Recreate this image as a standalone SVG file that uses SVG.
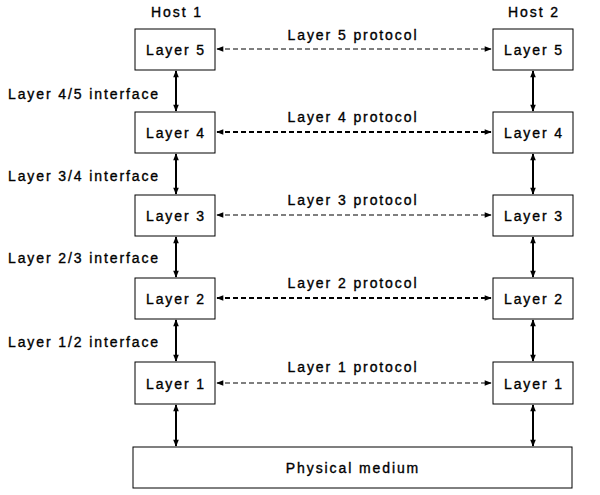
<svg xmlns="http://www.w3.org/2000/svg" width="600" height="495" viewBox="0 0 600 495">
<style>
text{font-family:"Liberation Sans",Arial,sans-serif;font-size:14px;fill:#000;stroke:#000;stroke-width:0.35;letter-spacing:1.9px}
.b{fill:#fff;stroke:#000;stroke-width:1}
.v{stroke:#000;stroke-width:2;marker-start:url(#a);marker-end:url(#a)}
.d{stroke:#000;stroke-width:1.2;stroke-dasharray:5,3;marker-start:url(#a);marker-end:url(#a)}
.t{stroke-width:2}
.c{text-anchor:middle}
</style>
<defs><marker id="a" viewBox="0 0 10 10" refX="9" refY="5" markerWidth="9" markerHeight="7" markerUnits="userSpaceOnUse" orient="auto-start-reverse"><path d="M0,1 L10,5 L0,9 Z" fill="#000"/></marker></defs>
<rect width="600" height="495" fill="#fff"/>
<text x="177" y="17" class="c">Host 1</text>
<text x="534" y="17" class="c">Host 2</text>
<g id="h1l5"><rect class="b" x="135" y="29" width="80" height="41"/><text x="176" y="55" class="c">Layer 5</text></g>
<g id="h1l4"><rect class="b" x="135" y="112" width="80" height="41"/><text x="176" y="138" class="c">Layer 4</text></g>
<g id="h1l3"><rect class="b" x="135" y="195" width="80" height="41"/><text x="176" y="221" class="c">Layer 3</text></g>
<g id="h1l2"><rect class="b" x="135" y="278" width="80" height="41"/><text x="176" y="304" class="c">Layer 2</text></g>
<g id="h1l1"><rect class="b" x="135" y="362" width="80" height="42"/><text x="176" y="389" class="c">Layer 1</text></g>
<g id="h2l5"><rect class="b" x="493" y="29" width="80" height="41"/><text x="534" y="55" class="c">Layer 5</text></g>
<g id="h2l4"><rect class="b" x="493" y="112" width="80" height="41"/><text x="534" y="138" class="c">Layer 4</text></g>
<g id="h2l3"><rect class="b" x="493" y="195" width="80" height="41"/><text x="534" y="221" class="c">Layer 3</text></g>
<g id="h2l2"><rect class="b" x="493" y="278" width="80" height="41"/><text x="534" y="304" class="c">Layer 2</text></g>
<g id="h2l1"><rect class="b" x="493" y="362" width="80" height="42"/><text x="534" y="389" class="c">Layer 1</text></g>
<g id="phys"><rect class="b" x="133" y="447" width="439" height="41"/><text x="353" y="473" class="c">Physical medium</text></g>
<g id="labels">
<text x="353" y="40" class="c">Layer 5 protocol</text>
<text x="353" y="122" class="c">Layer 4 protocol</text>
<text x="353" y="205" class="c">Layer 3 protocol</text>
<text x="353" y="288" class="c">Layer 2 protocol</text>
<text x="353" y="372" class="c">Layer 1 protocol</text>
<text x="8" y="99">Layer 4/5 interface</text>
<text x="8" y="181">Layer 3/4 interface</text>
<text x="8" y="263">Layer 2/3 interface</text>
<text x="8" y="347">Layer 1/2 interface</text>
</g>
<g id="connectors">
<line class="v" x1="176" y1="71" x2="176" y2="111"/>
<line class="v" x1="176" y1="154" x2="176" y2="194"/>
<line class="v" x1="176" y1="237" x2="176" y2="277"/>
<line class="v" x1="176" y1="320" x2="176" y2="361"/>
<line class="v" x1="176" y1="405" x2="176" y2="446"/>
<line class="v" x1="533" y1="71" x2="533" y2="111"/>
<line class="v" x1="533" y1="154" x2="533" y2="194"/>
<line class="v" x1="533" y1="237" x2="533" y2="277"/>
<line class="v" x1="533" y1="320" x2="533" y2="361"/>
<line class="v" x1="533" y1="405" x2="533" y2="446"/>
<line class="d" x1="217" y1="49" x2="491" y2="49"/>
<line class="d t" x1="217" y1="132" x2="491" y2="132"/>
<line class="d" x1="217" y1="215" x2="491" y2="215"/>
<line class="d t" x1="217" y1="298" x2="491" y2="298"/>
<line class="d" x1="217" y1="383" x2="491" y2="383"/>
</g>
</svg>
